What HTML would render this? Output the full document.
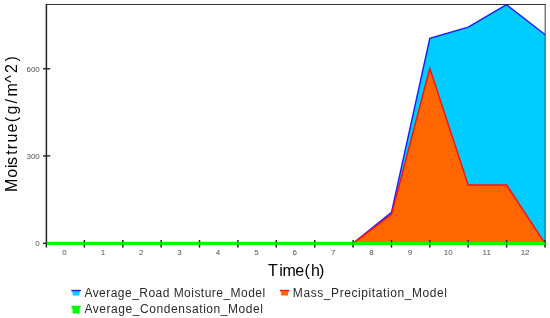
<!DOCTYPE html>
<html>
<head>
<meta charset="utf-8">
<title>Moisture chart</title>
<style>
html,body{margin:0;padding:0;background:#fff;}
body{width:550px;height:318px;overflow:hidden;}
svg{display:block;}
text{font-family:"Liberation Sans","NanumGothic",sans-serif;}
.tick{font-size:8px;fill:#505050;}
.title{font-size:16px;fill:#000;}
.leg{font-size:12px;fill:#2a2a2a;}
</style>
</head>
<body>
<svg width="550" height="318" viewBox="0 0 550 318">
  <rect x="0" y="0" width="550" height="318" fill="#ffffff"/>
  <!-- areas -->
  <polygon points="46,243.3 314.7,243.3 353.1,243.3 391.5,212.4 429.8,38.3 468.2,27.2 506.6,4.7 545.0,34.5 545.0,243.3" fill="#00ccff"/>
  <polyline points="46,243.3 314.7,243.3 353.1,243.3 391.5,212.4 429.8,38.3 468.2,27.2 506.6,4.7 545.0,34.5" fill="none" stroke="#1a1aff" stroke-width="1.4" stroke-linejoin="miter"/>
  <polygon points="46,243.3 314.7,243.3 353.1,243.3 391.5,214.4 429.8,68.3 468.2,185.0 506.6,185.0 545.0,243.3" fill="#ff6600"/>
  <polyline points="46,243.3 314.7,243.3 353.1,243.3 391.5,214.4 429.8,68.3 468.2,185.0 506.6,185.0 545.0,243.3" fill="none" stroke="#ff1010" stroke-width="1.45" stroke-linejoin="miter"/>
  <!-- frame -->
  <line x1="46" y1="4.5" x2="545.6" y2="4.5" stroke="#333" stroke-width="1"/>
  <line x1="545.2" y1="4" x2="545.2" y2="243" stroke="#3c3c3c" stroke-width="1"/>
  <line x1="46.4" y1="4" x2="46.4" y2="247.5" stroke="#222" stroke-width="1.5"/>
  <!-- y ticks -->
  <g stroke="#222" stroke-width="1.4">
    <line x1="43" y1="68.8" x2="50.2" y2="68.8"/>
    <line x1="43" y1="155.9" x2="50.2" y2="155.9"/>
    <line x1="43" y1="243.3" x2="46" y2="243.3"/>
  </g>
  <!-- x ticks -->
  <g stroke="#222" stroke-width="1.4">
    <line x1="84.4" y1="240" x2="84.4" y2="247.5"/>
    <line x1="122.8" y1="240" x2="122.8" y2="247.5"/>
    <line x1="161.2" y1="240" x2="161.2" y2="247.5"/>
    <line x1="199.5" y1="240" x2="199.5" y2="247.5"/>
    <line x1="237.9" y1="240" x2="237.9" y2="247.5"/>
    <line x1="276.3" y1="240" x2="276.3" y2="247.5"/>
    <line x1="314.7" y1="240" x2="314.7" y2="247.5"/>
    <line x1="353.1" y1="240" x2="353.1" y2="247.5"/>
    <line x1="391.5" y1="240" x2="391.5" y2="247.5"/>
    <line x1="429.8" y1="240" x2="429.8" y2="247.5"/>
    <line x1="468.2" y1="240" x2="468.2" y2="247.5"/>
    <line x1="506.6" y1="240" x2="506.6" y2="247.5"/>
    <line x1="545.0" y1="240" x2="545.0" y2="247.5"/>
  </g>
  <!-- condensation -->
  <line x1="46.8" y1="243.3" x2="545.5" y2="243.3" stroke="#00fc00" stroke-width="3.2"/>
  <g stroke="#222" stroke-width="1.4" opacity="0.3">
    <line x1="84.4" y1="240" x2="84.4" y2="247.5"/>
    <line x1="122.8" y1="240" x2="122.8" y2="247.5"/>
    <line x1="161.2" y1="240" x2="161.2" y2="247.5"/>
    <line x1="199.5" y1="240" x2="199.5" y2="247.5"/>
    <line x1="237.9" y1="240" x2="237.9" y2="247.5"/>
    <line x1="276.3" y1="240" x2="276.3" y2="247.5"/>
    <line x1="314.7" y1="240" x2="314.7" y2="247.5"/>
    <line x1="353.1" y1="240" x2="353.1" y2="247.5"/>
    <line x1="391.5" y1="240" x2="391.5" y2="247.5"/>
    <line x1="429.8" y1="240" x2="429.8" y2="247.5"/>
    <line x1="468.2" y1="240" x2="468.2" y2="247.5"/>
    <line x1="506.6" y1="240" x2="506.6" y2="247.5"/>
    <line x1="545.0" y1="240" x2="545.0" y2="247.5"/>
  </g>
  <!-- y labels -->
  <g class="tick" text-anchor="end">
    <text x="39.8" y="71.5">600</text>
    <text x="39.8" y="158.6">300</text>
    <text x="39.8" y="246.2">0</text>
  </g>
  <!-- x labels -->
  <g class="tick" text-anchor="middle">
    <text x="64.5" y="255">0</text>
    <text x="102.9" y="255">1</text>
    <text x="141.3" y="255">2</text>
    <text x="179.6" y="255">3</text>
    <text x="218.0" y="255">4</text>
    <text x="256.4" y="255">5</text>
    <text x="294.8" y="255">6</text>
    <text x="333.2" y="255">7</text>
    <text x="371.6" y="255">8</text>
    <text x="410.0" y="255">9</text>
    <text x="448.3" y="255">10</text>
    <text x="486.7" y="255">11</text>
    <text x="525.1" y="255">12</text>
  </g>
  <!-- titles -->
  <text class="title" id="xt" x="268.0 279.2 282.6 295.2 304.4 311.0 319.1" y="276.3">Time(h)</text>
  <text class="title" id="yt" transform="translate(16.7,191) rotate(-90)" x="-1.1 13.3 22.9 26.1 36.2 41.8 48.5 58.4 68.8 76.5 87.5 94.4 108.2 117.9 129.5" y="0">Moistrue(g/m^2)</text>
  <!-- legend -->
  <g>
    <polygon points="71.9,291.2 80.3,291.2 79.5,292.8 79.5,295.4 72.6,295.4 72.6,292.8" fill="#00ccff"/>
    <line x1="71.3" y1="290.6" x2="80.9" y2="290.6" stroke="#1a1aff" stroke-width="1.5"/>
    <text class="leg" id="l1" x="84.4" y="296.9" textLength="180.7" lengthAdjust="spacing">Average_Road Moisture_Model</text>
    <polygon points="280.5,291.2 288.9,291.2 288.1,292.8 288.1,295.4 281.2,295.4 281.2,292.8" fill="#ff6600"/>
    <line x1="279.9" y1="290.6" x2="289.5" y2="290.6" stroke="#ff1414" stroke-width="1.5"/>
    <text class="leg" id="l2" x="292.8" y="296.9" textLength="154.2" lengthAdjust="spacing">Mass_Precipitation_Model</text>
    <polygon points="71.3,305.8 80.9,305.8 80.4,308 79.5,309.2 79.5,313.6 72.6,313.6 72.6,309.2 71.8,308" fill="#00fc00"/>
    <text class="leg" id="l3" x="84.4" y="313.4" textLength="178.6" lengthAdjust="spacing">Average_Condensation_Model</text>
  </g>
</svg>
</body>
</html>
